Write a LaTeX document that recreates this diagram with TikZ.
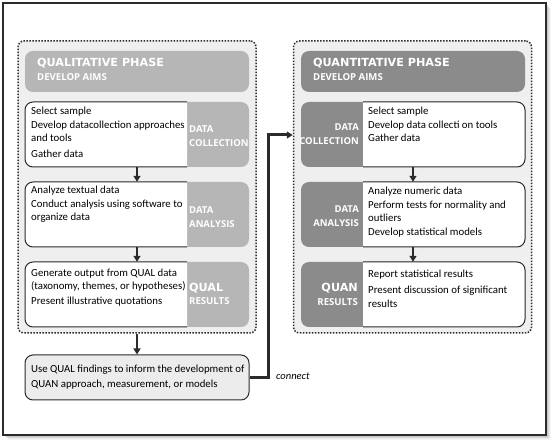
\documentclass[tikz,border=0pt]{standalone}
\usepackage{fontspec}
\setmainfont{Carlito}
\newfontfamily\hdfont{DejaVu Sans}
\newfontfamily\lbfont{Open Sans}
\usetikzlibrary{arrows.meta}
\definecolor{grayL}{HTML}{B6B6B6}
\definecolor{grayR}{HTML}{8B8B8B}
\definecolor{bgc}{HTML}{EFEFEF}
\definecolor{usec}{HTML}{ECECEC}
\definecolor{ink}{HTML}{2B2B2B}
\begin{document}
\begin{tikzpicture}[x=1pt,y=-1pt,
  cont/.style={draw=ink, fill=bgc, line width=1.5pt, dash pattern=on 1.5pt off 1.5pt, rounded corners=6pt, minimum width=238pt, minimum height=292pt, inner sep=0pt},
  head/.style={rounded corners=8pt, minimum width=224pt, minimum height=41pt, inner sep=0pt},
  panel/.style={rounded corners=8pt, minimum width=224pt, minimum height=65pt, inner sep=0pt},
  wpart/.style={draw=ink, fill=white, line width=1pt, rounded corners=8pt},
  body/.style={inner sep=0pt, align=left, font=\fontsize{10.8}{13.2}\selectfont},
  lab/.style={inner sep=0pt, text=white, font=\lbfont\fontsize{9.5}{14}\selectfont\bfseries},
  ttl/.style={inner sep=0pt, text=white, font=\hdfont\fontsize{11.2}{13}\selectfont\bfseries},
  sub/.style={inner sep=0pt, text=white, font=\lbfont\fontsize{9.6}{12}\selectfont\bfseries},
  arr/.style={ink, line width=2.2pt, -{Triangle[length=6pt,width=7pt]}},
  conn/.style={ink, line width=3pt, -{Triangle[length=6pt,width=7pt]}},
  usebox/.style={draw=ink, fill=usec, line width=1pt, rounded corners=8pt, minimum width=224pt, minimum height=45pt, inner sep=0pt}
]
\useasboundingbox (0,0) rectangle (552,443);
% outer frame with shadow
\foreach \i/\o in {5/0.04,4/0.05,3/0.07,2/0.09,1/0.12}
  \fill[black,opacity=\o] (3+\i,3+\i) rectangle (546+\i,435+\i);
\draw[ink, line width=1.2pt, fill=white] (3,3) rectangle (546,435);

% containers
\node[cont] (lc) at (137,187) {};
\node[cont] (rc) at (412.5,187) {};

% headers
\node[head, fill=grayL] (lh) at (137,71.5) {};
\node[head, fill=grayR] (rh) at (413,71.5) {};
\node[ttl, anchor=west] (lht) at (37,63) {QUALITATIVE PHASE};
\node[sub, anchor=west] (lhs) at (37,77.5) {DEVELOP AIMS};
\node[ttl, anchor=west] (rht) at (313,63) {QUANTITATIVE PHASE};
\node[sub, anchor=west] (rhs) at (313,77.5) {DEVELOP AIMS};

% left panels
\node[panel, fill=grayL] (ldc) at (137,134.5) {};
\node[panel, fill=grayL] (lda) at (137,214.5) {};
\node[panel, fill=grayL] (lqr) at (137,294.5) {};
\draw[wpart] (187,102) -- (25,102) -- (25,167) -- (187,167);
\draw[wpart] (187,182) -- (25,182) -- (25,247) -- (187,247);
\draw[wpart] (187,262) -- (25,262) -- (25,327) -- (187,327);

% right panels
\node[panel, fill=grayR] (rdc) at (413,134.5) {};
\node[panel, fill=grayR] (rda) at (413,214.5) {};
\node[panel, fill=grayR] (rqr) at (413,294.5) {};
\draw[wpart] (363,102) -- (525,102) -- (525,167) -- (363,167);
\draw[wpart] (363,182) -- (525,182) -- (525,247) -- (363,247);
\draw[wpart] (363,262) -- (525,262) -- (525,327) -- (363,327);

% left texts
\node[body, anchor=north west] (t1) at (31,106.5) {Select sample\\[1pt]Develop datacollection approaches\\and tools\\[3pt]Gather data};
\node[body, anchor=north west] (t2) at (31,185.5) {Analyze textual data\\[1pt]Conduct analysis using software to\\organize data};
\node[body, anchor=north west] (t3) at (31,269) {Generate output from QUAL data\\(taxonomy, themes, or hypotheses)\\[1pt]Present illustrative quotations};
% right texts
\node[body, anchor=north west] (t4) at (368,106.5) {Select sample\\[1pt]Develop data collecti on tools\\Gather data};
\node[body, anchor=north west] (t5) at (368,186.5) {Analyze numeric data\\[1pt]Perform tests for normality and\\outliers\\[1pt]Develop statistical models};
\node[body, anchor=north west] (t6) at (368,270) {Report statistical results\\[3pt]Present discussion of significant\\results};

% labels
\node[lab, anchor=north west, align=left] (l1) at (189,125.5) {DATA\\COLLECTION};
\node[lab, anchor=north west, align=left] (l2) at (189,206.5) {DATA\\ANALYSIS};
\node[ttl, anchor=west] (l3a) at (189,288) {QUAL};
\node[sub, anchor=west] (l3b) at (189,301) {RESULTS};
\node[lab, anchor=north east, align=right] (r1) at (359,123.5) {DATA\\COLLECTION};
\node[lab, anchor=north east, align=right] (r2) at (359,205) {DATA\\ANALYSIS};
\node[ttl, anchor=east] (r3a) at (358,288.5) {QUAN};
\node[sub, anchor=east] (r3b) at (358,302.5) {RESULTS};

% arrows inside
\draw[arr] (ldc.south) -- (lda.north);
\draw[arr] (lda.south) -- (lqr.north);
\draw[arr] (rdc.south) -- (rda.north);
\draw[arr] (rda.south) -- (rqr.north);

% bottom box
\node[usebox] (use) at (137,377.5) {};
\node[body, anchor=north west] (t7) at (31,364.5) {Use QUAL findings to inform the development of\\[2pt]QUAN approach, measurement, or models};
\draw[arr] (lc.south) -- (use.north);

% connect
\coordinate (bend) at (268,135);
\draw[conn] (use.east) -| (bend) -- (rc.west |- bend);
\node[inner sep=0pt, anchor=west, font=\fontsize{10.5}{12}\selectfont\itshape] (cn) at (276,376) {connect};
\end{tikzpicture}
\end{document}
